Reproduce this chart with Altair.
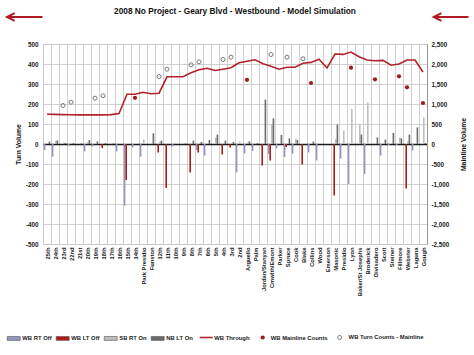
import altair as alt
import pandas as pd

FONT = "Liberation Sans"

categories = ["25th", "24th", "23rd", "22nd", "21st", "20th", "19th", "18th", "17th", "16th",
              "15th", "14th", "Park Presidio", "Funston", "12th", "11th", "10th", "9th", "8th", "7th",
              "6th", "5th", "4th", "3rd", "2nd", "Arguello", "Palm", "Jordan/Stanyan", "Cmwlth/Emont", "Parker",
              "Spruce", "Cook", "Blake", "Collins", "Wood", "Emerson", "Masonic", "Presidio", "Lyon", "Baker/St Josephs",
              "Broderick", "Divisadero", "Scott", "Steiner", "Fillmore", "Webster", "Laguna", "Gough"]

bar_series = ["WB RT Off", "WB LT Off", "SB RT On", "NB LT On"]
bar_colors = ["#9496c0", "#b01818", "#bdbdbd", "#6a6a6a"]

wb_rt_off = [-30, -63, 0, -8, 0, -37, -13, 0, 0, -37,
             -308, -17, -63, 0, 0, 0, -12, 0, 0, -30,
             -58, 0, 0, 0, -142, -47, -35, 0, -50, -22,
             -65, -48, 0, -42, -82, 0, 0, -73, -200, 0,
             -150, 0, -58, -5, -5, 0, -33, 0]
wb_lt_off = [0, 0, 0, 0, 0, 0, 0, -20, 0, 0,
             -180, 0, 0, 0, -42, -220, 0, 0, -142, -43,
             0, 0, -53, -17, 0, 0, 0, -108, -82, 0,
             -15, 0, -103, 0, 0, 0, -258, 0, 0, 0,
             0, 0, 0, 0, 0, -222, 0, 0]
sb_rt_on = [0, 15, 8, 0, 0, 10, 0, 0, 0, 0,
            0, 0, 22, 0, 10, 0, 6, 0, 0, 0,
            0, 33, 0, 0, 13, 8, 0, 0, 97, 0,
            0, 25, 0, 0, 0, 0, 25, 67, 175, 100,
            208, 0, 0, 0, 33, 12, 0, 133]
nb_lt_on = [12, 18, 5, 5, 3, 20, 13, 5, 3, 0,
            0, 0, 0, 53, 17, 0, 0, 3, 17, 10,
            20, 47, 17, 10, 0, 13, 5, 222, 128, 45,
            28, 20, 0, 12, 0, 0, 97, 0, 0, 47,
            0, 33, 22, 55, 28, 47, 83, 5]

wb_through = [745, 740, 735, 730, 728, 728, 728, 728, 735, 760,
              1245, 1245, 1295, 1255, 1270, 1680, 1680, 1680, 1780, 1855,
              1895, 1837, 1870, 1905, 2030, 2070, 2105, 2005, 1945, 1870,
              1920, 1920, 2020, 2040, 2120, 1900, 2250, 2240, 2300, 2180,
              2100, 2080, 2090, 1970, 2000, 2100, 2100, 1800]

mainline_cats = ["14th", "Arguello", "Collins", "Lyon", "Divisadero", "Fillmore", "Webster", "Gough"]
mainline_counts = [1155, 1605, 1525, 1908, 1617, 1692, 1417, 1025]

turn_cats = ["23rd", "22nd", "19th", "18th", "12th", "11th", "8th", "7th", "4th", "3rd",
             "Cmwlth/Emont", "Spruce", "Blake"]
turn_counts = [962, 1045, 1145, 1205, 1687, 1870, 1980, 2055, 2112, 2170, 2237, 2170, 2130]

title_text = "2008 No Project - Geary Blvd - Westbound - Model Simulation"

# ---- tables
bars_df = pd.DataFrame(
    [(c, s, v) for s, vals in zip(bar_series, [wb_rt_off, wb_lt_off, sb_rt_on, nb_lt_on])
     for c, v in zip(categories, vals)],
    columns=["cat", "series", "value"])
line_df = pd.DataFrame({"cat": categories, "value": wb_through, "s": "WB Through"})
main_df = pd.DataFrame({"cat": mainline_cats, "value": mainline_counts, "s": "WB Mainline Counts"})
turn_df = pd.DataFrame({"cat": turn_cats, "value": turn_counts, "s": "WB Turn Counts - Mainline"})

x_scale = alt.Scale(domain=categories, paddingInner=0, paddingOuter=0)
x_axis = alt.Axis(title=None, labelAngle=270, labelFontSize=5.8, labelFont=FONT,
                  labelFontWeight="bold", labelColor="#222", ticks=False, domain=False,
                  grid=True, gridColor="#c4c4c4", gridWidth=0.8, tickBand="extent",
                  labelPadding=3, labelOverlap=False, labelBound=False)
x_enc = alt.X("cat:N", scale=x_scale, sort=categories, axis=x_axis)

neg_label = "datum.value < 0 ? '-' + format(-datum.value, ',') : format(datum.value, ',')"

left_axis = alt.Axis(
    orient="left", values=list(range(-500, 501, 100)), title="Turn Volume",
    titleX=-25, titleY=100, titleAngle=270, titleBaseline="middle", titleAlign="center",
    titleFontSize=6.8, titleFont=FONT, titleFontWeight="bold", titleColor="#111",
    labelFontSize=6.3, labelFont=FONT, labelFontWeight="bold", labelColor="#222",
    labelPadding=5, ticks=False, domain=False, labelExpr=neg_label,
    gridColor={"condition": {"test": "datum.value === 0", "value": "#1a1a1a"}, "value": "#c4c4c4"},
    gridWidth={"condition": {"test": "datum.value === 0", "value": 1.4}, "value": 0.8},
)
right_axis = alt.Axis(
    orient="right", values=list(range(-2500, 2501, 500)), title="Mainline Volume",
    titleX=36, titleY=100, titleAngle=270, titleBaseline="middle", titleAlign="center",
    titleFontSize=6.8, titleFont=FONT, titleFontWeight="bold", titleColor="#111",
    labelFontSize=6.3, labelFont=FONT, labelFontWeight="bold", labelColor="#222",
    labelPadding=4, ticks=False, domain=True, domainColor="#8a8a8a", domainWidth=0.8,
    grid=False, labelExpr=neg_label,
)

LEG_Y = 287
leg_common = dict(orient="none", direction="horizontal", title=None, padding=0,
                  labelFont=FONT, labelFontSize=5.9, labelFontWeight="bold", labelColor="#222",
                  labelBaseline="middle", symbolOffset=0)

bars = alt.Chart(bars_df).mark_bar().encode(
    x=x_enc,
    xOffset=alt.XOffset("series:N", sort=bar_series,
                        scale=alt.Scale(domain=bar_series, paddingInner=0, paddingOuter=0.5)),
    y=alt.Y("value:Q", scale=alt.Scale(domain=[-500, 500], nice=False), axis=left_axis),
    color=alt.Color("series:N", scale=alt.Scale(domain=bar_series, range=bar_colors),
                    legend=alt.Legend(legendX=-36.3, legendY=LEG_Y, columns=4, columnPadding=3,
                                      symbolType="M-1,-0.3L1,-0.3L1,0.3L-1,0.3Z",
                                      symbolSize=169, symbolStrokeColor="#555",
                                      symbolStrokeWidth=0.6, labelOffset=1.5, **leg_common)),
)

y_main_scale = alt.Scale(domain=[-2500, 2500], nice=False)

line = alt.Chart(line_df).mark_line(strokeWidth=1.6).encode(
    x=x_enc,
    y=alt.Y("value:Q", scale=y_main_scale, axis=right_axis),
    color=alt.Color("s:N", scale=alt.Scale(domain=["WB Through"], range=["#b3222a"]),
                    legend=alt.Legend(legendX=156.7, legendY=LEG_Y,
                                      symbolType="M-1,-0.12L1,-0.12L1,0.12L-1,0.12Z",
                                      symbolSize=169, symbolFillColor="#b3222a",
                                      symbolStrokeWidth=0, labelOffset=1.5, **leg_common)),
)

dots = alt.Chart(main_df).mark_point(filled=True, size=18, opacity=1).encode(
    x=x_enc,
    y=alt.Y("value:Q", scale=y_main_scale, axis=None),
    color=alt.Color("s:N", scale=alt.Scale(domain=["WB Mainline Counts"], range=["#a01c1c"]),
                    legend=alt.Legend(legendX=216.7, legendY=LEG_Y + 3.5, symbolType="circle",
                                      symbolSize=18, labelOffset=5, **leg_common)),
)

turns = alt.Chart(turn_df).mark_point(filled=False, size=16, strokeWidth=1, opacity=1).encode(
    x=x_enc,
    y=alt.Y("value:Q", scale=y_main_scale, axis=None),
    color=alt.Color("s:N", scale=alt.Scale(domain=["WB Turn Counts - Mainline"], range=["#7a7a7a"]),
                    legend=alt.Legend(legendX=293.7, legendY=LEG_Y + 3.5, symbolType="circle",
                                      symbolSize=16, symbolStrokeWidth=1, labelOffset=6,
                                      **leg_common)),
)

# decorative arrows near the title
deco = alt.Chart(pd.DataFrame({"k": [0]}))
ARROW = "#b01c22"
arrow_l = deco.mark_rule(color=ARROW, strokeWidth=2).encode(
    x=alt.value(-35.5), x2=alt.value(-0.5), y=alt.value(-27))
head_l = deco.mark_point(shape="M1,-1L-1,0L1,1", filled=False, strokeWidth=2, size=59,
                         color=ARROW, opacity=1).encode(x=alt.value(-32.2), y=alt.value(-27))
arrow_r = deco.mark_rule(color=ARROW, strokeWidth=2).encode(
    x=alt.value(391.5), x2=alt.value(425.5), y=alt.value(-27))
head_r = deco.mark_point(shape="M1,-1L-1,0L1,1", filled=False, strokeWidth=2, size=59,
                         color=ARROW, opacity=1).encode(x=alt.value(394.6), y=alt.value(-27))

chart = alt.layer(bars, line, dots, turns, arrow_l, head_l, arrow_r, head_r).resolve_scale(
    y="independent", color="independent"
).properties(
    width=384, height=200,
    padding={"left": 43, "top": 44, "right": 47, "bottom": 111},
    autosize=alt.AutoSizeParams(type="none"),
    title=alt.TitleParams(title_text, fontSize=8.3, font=FONT, fontWeight="bold",
                          color="#111", anchor="middle", frame="group", offset=-6.5),
).configure_view(strokeWidth=0).configure(background="white")

chart.save("out.html", embed_options={"renderer": "svg", "actions": False})
